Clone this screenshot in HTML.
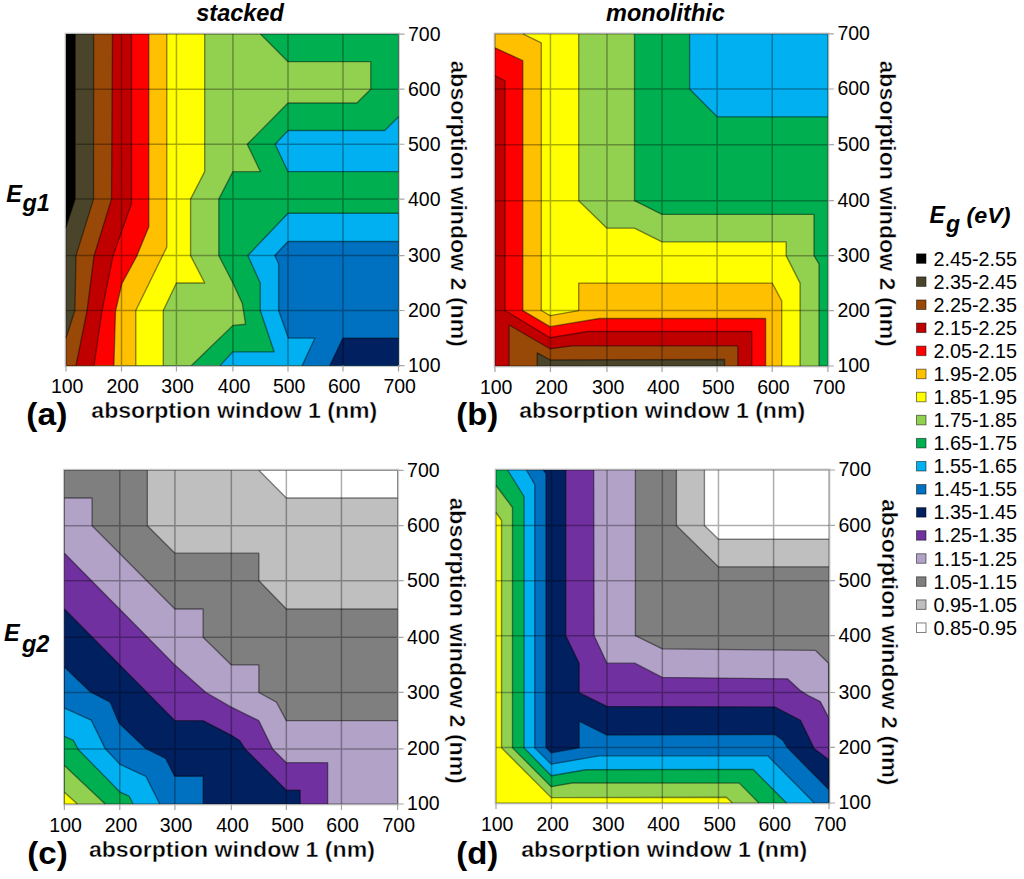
<!DOCTYPE html>
<html><head><meta charset="utf-8"><style>
html,body{margin:0;padding:0;background:#fff;}
body{width:1024px;height:879px;overflow:hidden;}
svg{display:block;}
text{font-family:"Liberation Sans",sans-serif;fill:#000;}
.tk{font-size:19.5px;}
.lg{font-size:19.8px;}
.ax{font-size:21.5px;font-weight:bold;stroke:#fff;stroke-width:0.4px;paint-order:normal;}
.tt{font-size:23.5px;font-weight:bold;font-style:italic;}
.el{font-size:23.5px;font-weight:bold;font-style:italic;}
.eg{font-size:23px;font-weight:bold;font-style:italic;}
.pl{font-size:32px;font-weight:bold;}
</style></head><body>
<svg width="1024" height="879" viewBox="0 0 1024 879">
<rect x="65" y="33.1" width="334.5" height="333.5" fill="none" stroke="#d4d4d4" stroke-width="1"/>
<g>
<polygon points="66,34.1 398.5,34.1 398.5,365.6 66,365.6" fill="#00b050"/>
<polygon points="66,34.1 260.46,34.1 288,61.65 370.75,61.65 370.75,89.2 356.88,102.96 288,102.96 247.24,144.24 260.46,171.67 232.92,171.67 218.8,199.1 218.8,255.58 232.92,283.04 242.28,303.36 245.59,324.27 232.92,325.38 191.46,365.6 66,365.6" fill="#92d050"/>
<polygon points="66,34.1 204.68,34.1 204.68,171.67 190.56,199.1 190.56,255.58 204.68,283.04 176.44,283.04 163.25,310.5 163.25,365.6 66,365.6" fill="#ffff00"/>
<polygon points="66,34.1 166.77,34.1 166.77,247.11 135.78,310.5 135.78,365.6 66,365.6" fill="#ffc000"/>
<polygon points="66,34.1 148.86,34.1 148.86,226.78 136.72,256.13 121.88,283.7 115.51,311.27 113.9,365.6 66,365.6" fill="#ff0000"/>
<polygon points="66,34.1 131.5,34.1 131.5,203.62 112.9,256.13 101.91,311.27 93.97,365.6 66,365.6" fill="#c00000"/>
<polygon points="66,34.1 112.51,34.1 111.51,199.1 93.97,256.13 86.98,311.05 75.99,365.6 66,365.6" fill="#984807"/>
<polygon points="66,34.1 93.64,34.1 93.53,199.1 75.99,255.58 74.88,310.5 66,338.05" fill="#4a452a"/>
<polygon points="66,34.1 75.21,34.1 75.21,199.1 66,227.34" fill="#000000"/>
<polygon points="288,130.48 384.62,130.48 398.5,116.72 398.5,171.67 288,171.67 275.11,144.24" fill="#00b0f0"/>
<polygon points="288,213.22 398.5,213.22 398.5,365.6 219.93,365.6 232.92,351.83 274.06,351.83 260.24,310.5 260.24,283.04 247.79,255.58" fill="#00b0f0"/>
<polygon points="288,241.46 398.5,241.46 398.5,365.6 302.19,365.6 314.95,338.05 288.33,338.05 278.64,310.5 278.64,263.82 274.78,255.58" fill="#0070c0"/>
<polygon points="343,338.05 398.5,338.05 398.5,365.6 329.8,365.6" fill="#002060"/>
<path d="M121.5 34.1V365.6M66 310.5H398.5M176.44 34.1V365.6M66 255.58H398.5M232.92 34.1V365.6M66 199.1H398.5M288 34.1V365.6M66 144.24H398.5M343 34.1V365.6M66 89.2H398.5" stroke="rgba(0,0,0,0.32)" stroke-width="1.5" fill="none"/>
<path d="M260.46 34.1L288 61.65L370.75 61.65L370.75 89.2L356.88 102.96L288 102.96L247.24 144.24L260.46 171.67L232.92 171.67L218.8 199.1L218.8 255.58L232.92 283.04L242.28 303.36L245.59 324.27L232.92 325.38L191.46 365.6M204.68 34.1L204.68 171.67L190.56 199.1L190.56 255.58L204.68 283.04L176.44 283.04L163.25 310.5L163.25 365.6M166.77 34.1L166.77 247.11L135.78 310.5L135.78 365.6M148.86 34.1L148.86 226.78L136.72 256.13L121.88 283.7L115.51 311.27L113.9 365.6M131.5 34.1L131.5 203.62L112.9 256.13L101.91 311.27L93.97 365.6M112.51 34.1L111.51 199.1L93.97 256.13L86.98 311.05L75.99 365.6M93.64 34.1L93.53 199.1L75.99 255.58L74.88 310.5L66 338.05M75.21 34.1L75.21 199.1L66 227.34M288 130.48L384.62 130.48L398.5 116.72M398.5 171.67L288 171.67L275.11 144.24L288 130.48M288 213.22L398.5 213.22M219.93 365.6L232.92 351.83L274.06 351.83L260.24 310.5L260.24 283.04L247.79 255.58L288 213.22M288 241.46L398.5 241.46M302.19 365.6L314.95 338.05L288.33 338.05L278.64 310.5L278.64 263.82L274.78 255.58L288 241.46M343 338.05L398.5 338.05M329.8 365.6L343 338.05" stroke="rgba(0,0,0,0.45)" stroke-width="1.35" fill="none" stroke-linejoin="round"/>
<rect x="66" y="34.1" width="332.5" height="331.5" fill="none" stroke="rgba(0,0,0,0.45)" stroke-width="1.1"/>
</g>
<path d="M66 365.6v6M398.5 365.6h6M121.5 365.6v6M398.5 310.5h6M176.44 365.6v6M398.5 255.58h6M232.92 365.6v6M398.5 199.1h6M288 365.6v6M398.5 144.24h6M343 365.6v6M398.5 89.2h6M398.5 365.6v6M398.5 34.1h6" stroke="#a6a6a6" stroke-width="1.2" fill="none"/>
<text x="67.2" y="393.1" class="tk" text-anchor="middle">100</text>
<text x="408" y="372" class="tk">100</text>
<text x="122.7" y="393.1" class="tk" text-anchor="middle">200</text>
<text x="408" y="316.9" class="tk">200</text>
<text x="177.64" y="393.1" class="tk" text-anchor="middle">300</text>
<text x="408" y="261.98" class="tk">300</text>
<text x="234.12" y="393.1" class="tk" text-anchor="middle">400</text>
<text x="408" y="205.5" class="tk">400</text>
<text x="289.2" y="393.1" class="tk" text-anchor="middle">500</text>
<text x="408" y="150.64" class="tk">500</text>
<text x="344.2" y="393.1" class="tk" text-anchor="middle">600</text>
<text x="408" y="95.6" class="tk">600</text>
<text x="399.7" y="393.1" class="tk" text-anchor="middle">700</text>
<text x="408" y="40.5" class="tk">700</text>
<text x="91.3" y="417.7" class="ax" textLength="286" lengthAdjust="spacingAndGlyphs">absorption window 1 (nm)</text>
<text class="ax" textLength="286.5" lengthAdjust="spacingAndGlyphs" transform="translate(451,60.5) rotate(90)">absorption window 2 (nm)</text>
<rect x="494" y="32.9" width="334.9" height="334.1" fill="none" stroke="#d4d4d4" stroke-width="1"/>
<g>
<polygon points="495,33.9 827.9,33.9 827.9,366 495,366" fill="#00b050"/>
<polygon points="689.57,33.9 827.9,33.9 827.9,116.83 717.1,116.83 689.57,88.99" fill="#00b0f0"/>
<polygon points="495,33.9 634.5,33.9 634.5,200.69 662.04,214.44 813.99,214.44 813.99,255.67 818.99,263.91 818.99,366 495,366" fill="#92d050"/>
<polygon points="495,33.9 578.7,33.9 578.7,200.69 606.95,228.18 634.5,228.18 662.04,241.92 786.15,241.92 786.15,255.67 800.07,283.12 800.07,366 495,366" fill="#ffff00"/>
<polygon points="495,33.9 522.83,33.9 541.29,42.82 541.29,310.53 550.22,315.57 578.7,310.58 578.7,283.12 772.24,283.12 781.7,300.7 781.7,366 495,366" fill="#ffc000"/>
<polygon points="495,47.84 522.83,60.73 522.83,310.58 550.05,326.65 599.26,318.51 765.62,318.51 765.62,366 495,366" fill="#ff0000"/>
<polygon points="495,75.77 504.92,80.73 504.92,310.47 550.05,337.74 588.13,331.47 751.73,331.47 751.73,366 495,366" fill="#c00000"/>
<polygon points="509.08,366 509.08,324.99 550.05,348.71 571.91,345.94 737.83,345.94 737.83,366" fill="#984807"/>
<polygon points="537.19,366 537.19,352.81 550.05,359.96 724.54,359.52 724.54,366" fill="#4a452a"/>
<path d="M550.44 33.9V366M495 310.58H827.9M606.95 33.9V366M495 255.67H827.9M662.04 33.9V366M495 200.69H827.9M717.1 33.9V366M495 144.67H827.9M772.24 33.9V366M495 88.99H827.9" stroke="rgba(0,0,0,0.32)" stroke-width="1.5" fill="none"/>
<path d="M827.9 116.83L717.1 116.83L689.57 88.99L689.57 33.9M634.5 33.9L634.5 200.69L662.04 214.44L813.99 214.44L813.99 255.67L818.99 263.91L818.99 366M578.7 33.9L578.7 200.69L606.95 228.18L634.5 228.18L662.04 241.92L786.15 241.92L786.15 255.67L800.07 283.12L800.07 366M522.83 33.9L541.29 42.82L541.29 310.53L550.22 315.57L578.7 310.58L578.7 283.12L772.24 283.12L781.7 300.7L781.7 366M495 47.84L522.83 60.73L522.83 310.58L550.05 326.65L599.26 318.51L765.62 318.51L765.62 366M495 75.77L504.92 80.73L504.92 310.47L550.05 337.74L588.13 331.47L751.73 331.47L751.73 366M509.08 366L509.08 324.99L550.05 348.71L571.91 345.94L737.83 345.94L737.83 366M537.19 366L537.19 352.81L550.05 359.96L724.54 359.52L724.54 366" stroke="rgba(0,0,0,0.45)" stroke-width="1.35" fill="none" stroke-linejoin="round"/>
<rect x="495" y="33.9" width="332.9" height="332.1" fill="none" stroke="rgba(0,0,0,0.45)" stroke-width="1.1"/>
</g>
<path d="M495 366v6M827.9 366h6M550.44 366v6M827.9 310.58h6M606.95 366v6M827.9 255.67h6M662.04 366v6M827.9 200.69h6M717.1 366v6M827.9 144.67h6M772.24 366v6M827.9 88.99h6M827.9 366v6M827.9 33.9h6" stroke="#a6a6a6" stroke-width="1.2" fill="none"/>
<text x="496.2" y="393.5" class="tk" text-anchor="middle">100</text>
<text x="837.4" y="372.4" class="tk">100</text>
<text x="551.64" y="393.5" class="tk" text-anchor="middle">200</text>
<text x="837.4" y="316.98" class="tk">200</text>
<text x="608.15" y="393.5" class="tk" text-anchor="middle">300</text>
<text x="837.4" y="262.07" class="tk">300</text>
<text x="663.24" y="393.5" class="tk" text-anchor="middle">400</text>
<text x="837.4" y="207.09" class="tk">400</text>
<text x="718.3" y="393.5" class="tk" text-anchor="middle">500</text>
<text x="837.4" y="151.07" class="tk">500</text>
<text x="773.44" y="393.5" class="tk" text-anchor="middle">600</text>
<text x="837.4" y="95.39" class="tk">600</text>
<text x="829.1" y="393.5" class="tk" text-anchor="middle">700</text>
<text x="837.4" y="40.3" class="tk">700</text>
<text x="519.2" y="417.7" class="ax" textLength="286" lengthAdjust="spacingAndGlyphs">absorption window 1 (nm)</text>
<text class="ax" textLength="286.5" lengthAdjust="spacingAndGlyphs" transform="translate(880.4,60.5) rotate(90)">absorption window 2 (nm)</text>
<rect x="63.4" y="469.3" width="335.2" height="335.7" fill="none" stroke="#d4d4d4" stroke-width="1"/>
<g>
<polygon points="64.4,470.3 397.6,470.3 397.6,804 64.4,804" fill="#bfbfbf"/>
<polygon points="258.85,470.3 397.6,470.3 397.6,497.99 286.35,497.99" fill="#ffffff"/>
<polygon points="64.4,470.3 147.34,470.3 147.34,525.67 174.9,553.18 258.85,553.18 258.85,580.7 286.35,609.03 397.6,609.03 397.6,804 64.4,804" fill="#7f7f7f"/>
<polygon points="64.4,497.99 92.09,497.99 92.09,525.67 174.9,609.03 203.12,609.03 203.12,637.35 231.35,664.91 258.85,664.91 258.85,692.47 276.45,702.07 286.35,720.69 397.6,720.69 397.6,804 64.4,804" fill="#b3a2c7"/>
<polygon points="64.4,553.18 174.9,664.91 205.95,692.47 231.35,707.15 258.85,720.69 272.6,748.92 286.35,762.69 327.67,762.69 327.67,804 64.4,804" fill="#7030a0"/>
<polygon points="64.4,609.03 174.9,720.69 203.12,720.69 231.35,735.37 239.6,740.45 245.1,748.92 286.35,790.23 300.12,790.23 300.12,804 64.4,804" fill="#002060"/>
<polygon points="64.4,667.11 90.43,691.92 110.14,702.07 119.12,723.24 145.85,748.58 165.69,758.5 174.57,776.29 203.12,776.29 203.12,804 64.4,804" fill="#0070c0"/>
<polygon points="64.4,708.05 91.26,720.13 105.16,748.58 120.11,764.45 145.85,776.29 159.74,804 64.4,804" fill="#00b0f0"/>
<polygon points="64.4,736.39 73.37,740.45 78.25,749.58 120.11,792.16 129.04,796.12 133.01,804 64.4,804" fill="#00b050"/>
<polygon points="64.4,765.44 105.16,804 64.4,804" fill="#92d050"/>
<polygon points="64.4,792.16 77.36,804 64.4,804" fill="#ffff00"/>
<path d="M119.78 470.3V804M64.4 748.92H397.6M174.9 470.3V804M64.4 692.47H397.6M231.35 470.3V804M64.4 637.35H397.6M286.35 470.3V804M64.4 580.7H397.6M341.44 470.3V804M64.4 525.67H397.6" stroke="rgba(0,0,0,0.32)" stroke-width="1.5" fill="none"/>
<path d="M397.6 497.99L286.35 497.99L258.85 470.3M147.34 470.3L147.34 525.67L174.9 553.18L258.85 553.18L258.85 580.7L286.35 609.03L397.6 609.03M64.4 497.99L92.09 497.99L92.09 525.67L174.9 609.03L203.12 609.03L203.12 637.35L231.35 664.91L258.85 664.91L258.85 692.47L276.45 702.07L286.35 720.69L397.6 720.69M64.4 553.18L174.9 664.91L205.95 692.47L231.35 707.15L258.85 720.69L272.6 748.92L286.35 762.69L327.67 762.69L327.67 804M64.4 609.03L174.9 720.69L203.12 720.69L231.35 735.37L239.6 740.45L245.1 748.92L286.35 790.23L300.12 790.23L300.12 804M64.4 667.11L90.43 691.92L110.14 702.07L119.12 723.24L145.85 748.58L165.69 758.5L174.57 776.29L203.12 776.29L203.12 804M64.4 708.05L91.26 720.13L105.16 748.58L120.11 764.45L145.85 776.29L159.74 804M64.4 736.39L73.37 740.45L78.25 749.58L120.11 792.16L129.04 796.12L133.01 804M64.4 765.44L105.16 804M64.4 792.16L77.36 804" stroke="rgba(0,0,0,0.45)" stroke-width="1.35" fill="none" stroke-linejoin="round"/>
<rect x="64.4" y="470.3" width="333.2" height="333.7" fill="none" stroke="rgba(0,0,0,0.45)" stroke-width="1.1"/>
</g>
<path d="M64.4 804v6M397.6 804h6M119.78 804v6M397.6 748.92h6M174.9 804v6M397.6 692.47h6M231.35 804v6M397.6 637.35h6M286.35 804v6M397.6 580.7h6M341.44 804v6M397.6 525.67h6M397.6 804v6M397.6 470.3h6" stroke="#a6a6a6" stroke-width="1.2" fill="none"/>
<text x="65.6" y="831.5" class="tk" text-anchor="middle">100</text>
<text x="407.1" y="810.4" class="tk">100</text>
<text x="120.98" y="831.5" class="tk" text-anchor="middle">200</text>
<text x="407.1" y="755.32" class="tk">200</text>
<text x="176.1" y="831.5" class="tk" text-anchor="middle">300</text>
<text x="407.1" y="698.87" class="tk">300</text>
<text x="232.55" y="831.5" class="tk" text-anchor="middle">400</text>
<text x="407.1" y="643.75" class="tk">400</text>
<text x="287.55" y="831.5" class="tk" text-anchor="middle">500</text>
<text x="407.1" y="587.1" class="tk">500</text>
<text x="342.64" y="831.5" class="tk" text-anchor="middle">600</text>
<text x="407.1" y="532.07" class="tk">600</text>
<text x="398.8" y="831.5" class="tk" text-anchor="middle">700</text>
<text x="407.1" y="476.7" class="tk">700</text>
<text x="88.9" y="857.4" class="ax" textLength="286" lengthAdjust="spacingAndGlyphs">absorption window 1 (nm)</text>
<text class="ax" textLength="286.5" lengthAdjust="spacingAndGlyphs" transform="translate(450.1,497.5) rotate(90)">absorption window 2 (nm)</text>
<rect x="495" y="469" width="335" height="335" fill="none" stroke="#d4d4d4" stroke-width="1"/>
<g>
<polygon points="496,470 829,470 829,803 496,803" fill="#7f7f7f"/>
<polygon points="676.38,470 676.38,525.47 718.47,566.87 829,566.87 829,470" fill="#bfbfbf"/>
<polygon points="704.44,470 704.44,525.47 718.47,539.27 829,539.27 829,470" fill="#ffffff"/>
<polygon points="496,470 635.41,470 635.41,635.67 662.35,648.91 815.31,650.33 828.56,663.18 829,803 496,803" fill="#b3a2c7"/>
<polygon points="496,470 593.71,470 594.1,635.67 607.04,663.18 634.81,663.18 662.35,677.45 787.55,678.87 800.46,690.69 808.38,695.64 820.24,701.58 829,718.34 829,803 496,803" fill="#7030a0"/>
<polygon points="496,470 565.83,470 565.83,635.67 579.16,663.18 579.16,692.73 607.04,706.47 774.69,706.91 800.46,720.26 814.31,748.86 829,759.8 829,803 496,803" fill="#002060"/>
<polygon points="496,470 543.34,470 545.95,473.61 545.95,747.86 551.28,752.86 579.16,747.86 579.16,721.25 607.04,735.05 774.69,734.44 782.61,740 787.55,747.86 829,789.67 829,803 496,803" fill="#0070c0"/>
<polygon points="496,470 526.41,470 534.79,484.59 534.79,747.86 551.28,764.18 599.1,755.8 767.79,755.8 814.31,803 496,803" fill="#00b0f0"/>
<polygon points="496,470 507.54,470 524.03,496.51 524.03,747.86 551.28,775.73 586.16,769.74 753.02,769.35 786.6,803 496,803" fill="#00b050"/>
<polygon points="496,485.53 512.48,507.5 512.48,747.86 551.28,786.67 572.22,783.01 739.19,783.12 758.92,803 496,803" fill="#92d050"/>
<polygon points="496,512.49 501.55,520.48 501.55,747.86 551.28,797.61 726.41,797.22 732.3,803 496,803" fill="#ffff00"/>
<path d="M551.5 470V803M496 747.47H829M607.04 470V803M496 692.51H829M662.35 470V803M496 635.67H829M718.47 470V803M496 580.67H829M773.58 470V803M496 525.47H829" stroke="rgba(0,0,0,0.32)" stroke-width="1.5" fill="none"/>
<path d="M676.38 470L676.38 525.47L718.47 566.87L829 566.87M704.44 470L704.44 525.47L718.47 539.27L829 539.27M635.41 470L635.41 635.67L662.35 648.91L815.31 650.33L828.56 663.18L829 803M593.71 470L594.1 635.67L607.04 663.18L634.81 663.18L662.35 677.45L787.55 678.87L800.46 690.69L808.38 695.64L820.24 701.58L829 718.34M565.83 470L565.83 635.67L579.16 663.18L579.16 692.73L607.04 706.47L774.69 706.91L800.46 720.26L814.31 748.86L829 759.8M543.34 470L545.95 473.61L545.95 747.86L551.28 752.86L579.16 747.86L579.16 721.25L607.04 735.05L774.69 734.44L782.61 740L787.55 747.86L829 789.67M526.41 470L534.79 484.59L534.79 747.86L551.28 764.18L599.1 755.8L767.79 755.8L814.31 803M507.54 470L524.03 496.51L524.03 747.86L551.28 775.73L586.16 769.74L753.02 769.35L786.6 803M496 485.53L512.48 507.5L512.48 747.86L551.28 786.67L572.22 783.01L739.19 783.12L758.92 803M496 512.49L501.55 520.48L501.55 747.86L551.28 797.61L726.41 797.22L732.3 803" stroke="rgba(0,0,0,0.45)" stroke-width="1.35" fill="none" stroke-linejoin="round"/>
<rect x="496" y="470" width="333" height="333" fill="none" stroke="rgba(0,0,0,0.45)" stroke-width="1.1"/>
</g>
<path d="M496 803v6M829 803h6M551.5 803v6M829 747.47h6M607.04 803v6M829 692.51h6M662.35 803v6M829 635.67h6M718.47 803v6M829 580.67h6M773.58 803v6M829 525.47h6M829 803v6M829 470h6" stroke="#a6a6a6" stroke-width="1.2" fill="none"/>
<text x="497.2" y="830.5" class="tk" text-anchor="middle">100</text>
<text x="838.5" y="809.4" class="tk">100</text>
<text x="552.7" y="830.5" class="tk" text-anchor="middle">200</text>
<text x="838.5" y="753.87" class="tk">200</text>
<text x="608.24" y="830.5" class="tk" text-anchor="middle">300</text>
<text x="838.5" y="698.91" class="tk">300</text>
<text x="663.55" y="830.5" class="tk" text-anchor="middle">400</text>
<text x="838.5" y="642.07" class="tk">400</text>
<text x="719.67" y="830.5" class="tk" text-anchor="middle">500</text>
<text x="838.5" y="587.07" class="tk">500</text>
<text x="774.78" y="830.5" class="tk" text-anchor="middle">600</text>
<text x="838.5" y="531.87" class="tk">600</text>
<text x="830.2" y="830.5" class="tk" text-anchor="middle">700</text>
<text x="838.5" y="476.4" class="tk">700</text>
<text x="521.2" y="857.4" class="ax" textLength="286" lengthAdjust="spacingAndGlyphs">absorption window 1 (nm)</text>
<text class="ax" textLength="286.5" lengthAdjust="spacingAndGlyphs" transform="translate(881.5,499) rotate(90)">absorption window 2 (nm)</text>
<rect x="916.5" y="253.85" width="9.5" height="9.5" fill="#000000" stroke="rgba(0,0,0,0.5)" stroke-width="1"/>
<text x="933.5" y="265.6" class="lg">2.45-2.55</text>
<rect x="916.5" y="276.92" width="9.5" height="9.5" fill="#4a452a" stroke="rgba(0,0,0,0.5)" stroke-width="1"/>
<text x="933.5" y="288.67" class="lg">2.35-2.45</text>
<rect x="916.5" y="299.99" width="9.5" height="9.5" fill="#984807" stroke="rgba(0,0,0,0.5)" stroke-width="1"/>
<text x="933.5" y="311.74" class="lg">2.25-2.35</text>
<rect x="916.5" y="323.06" width="9.5" height="9.5" fill="#c00000" stroke="rgba(0,0,0,0.5)" stroke-width="1"/>
<text x="933.5" y="334.81" class="lg">2.15-2.25</text>
<rect x="916.5" y="346.13" width="9.5" height="9.5" fill="#ff0000" stroke="rgba(0,0,0,0.5)" stroke-width="1"/>
<text x="933.5" y="357.88" class="lg">2.05-2.15</text>
<rect x="916.5" y="369.2" width="9.5" height="9.5" fill="#ffc000" stroke="rgba(0,0,0,0.5)" stroke-width="1"/>
<text x="933.5" y="380.95" class="lg">1.95-2.05</text>
<rect x="916.5" y="392.27" width="9.5" height="9.5" fill="#ffff00" stroke="rgba(0,0,0,0.5)" stroke-width="1"/>
<text x="933.5" y="404.02" class="lg">1.85-1.95</text>
<rect x="916.5" y="415.34" width="9.5" height="9.5" fill="#92d050" stroke="rgba(0,0,0,0.5)" stroke-width="1"/>
<text x="933.5" y="427.09" class="lg">1.75-1.85</text>
<rect x="916.5" y="438.41" width="9.5" height="9.5" fill="#00b050" stroke="rgba(0,0,0,0.5)" stroke-width="1"/>
<text x="933.5" y="450.16" class="lg">1.65-1.75</text>
<rect x="916.5" y="461.48" width="9.5" height="9.5" fill="#00b0f0" stroke="rgba(0,0,0,0.5)" stroke-width="1"/>
<text x="933.5" y="473.23" class="lg">1.55-1.65</text>
<rect x="916.5" y="484.55" width="9.5" height="9.5" fill="#0070c0" stroke="rgba(0,0,0,0.5)" stroke-width="1"/>
<text x="933.5" y="496.3" class="lg">1.45-1.55</text>
<rect x="916.5" y="507.62" width="9.5" height="9.5" fill="#002060" stroke="rgba(0,0,0,0.5)" stroke-width="1"/>
<text x="933.5" y="519.37" class="lg">1.35-1.45</text>
<rect x="916.5" y="530.69" width="9.5" height="9.5" fill="#7030a0" stroke="rgba(0,0,0,0.5)" stroke-width="1"/>
<text x="933.5" y="542.44" class="lg">1.25-1.35</text>
<rect x="916.5" y="553.76" width="9.5" height="9.5" fill="#b3a2c7" stroke="rgba(0,0,0,0.5)" stroke-width="1"/>
<text x="933.5" y="565.51" class="lg">1.15-1.25</text>
<rect x="916.5" y="576.83" width="9.5" height="9.5" fill="#7f7f7f" stroke="rgba(0,0,0,0.5)" stroke-width="1"/>
<text x="933.5" y="588.58" class="lg">1.05-1.15</text>
<rect x="916.5" y="599.9" width="9.5" height="9.5" fill="#bfbfbf" stroke="rgba(0,0,0,0.5)" stroke-width="1"/>
<text x="933.5" y="611.65" class="lg">0.95-1.05</text>
<rect x="916.5" y="622.97" width="9.5" height="9.5" fill="#ffffff" stroke="rgba(0,0,0,0.5)" stroke-width="1"/>
<text x="933.5" y="634.72" class="lg">0.85-0.95</text>
<text x="929.5" y="222.8" class="eg">E</text>
<text x="946" y="232" class="eg">g</text>
<text x="966.5" y="222.5" class="eg" style="font-size:21.5px" textLength="44" lengthAdjust="spacingAndGlyphs">(eV)</text>
<text x="240" y="20.5" class="tt" text-anchor="middle">stacked</text>
<text x="665.5" y="20.5" class="tt" text-anchor="middle">monolithic</text>
<text x="6.3" y="202.3" class="el">E</text><text x="22.5" y="211" class="el">g1</text>
<text x="4.1" y="641.2" class="el">E</text><text x="22" y="651.5" class="el">g2</text>
<text x="26.3" y="424.6" class="pl" textLength="41" lengthAdjust="spacingAndGlyphs">(a)</text>
<text x="456.3" y="424.6" class="pl" textLength="42" lengthAdjust="spacingAndGlyphs">(b)</text>
<text x="27.3" y="864.4" class="pl" textLength="40.5" lengthAdjust="spacingAndGlyphs">(c)</text>
<text x="456.3" y="864.4" class="pl" textLength="42" lengthAdjust="spacingAndGlyphs">(d)</text>
</svg>
</body></html>
